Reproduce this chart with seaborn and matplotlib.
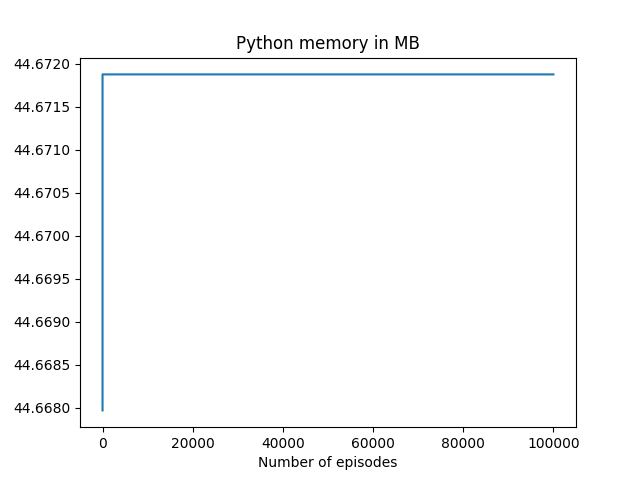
import matplotlib
matplotlib.use("Agg")
import matplotlib.pyplot as plt
import seaborn as sns
import pandas as pd

# memory usage logged over training episodes
episodes = [0, 1, 100000]
memory_mb = [44.66796875, 44.671875, 44.671875]

df = pd.DataFrame({"episode": episodes, "memory": memory_mb})

fig, ax = plt.subplots(figsize=(6.4, 4.8), dpi=100)
sns.lineplot(data=df, x="episode", y="memory", ax=ax, color="#1f77b4")
ax.set_title("Python memory in MB")
ax.set_xlabel("Number of episodes")
ax.set_ylabel("")
plt.savefig("out.png")
